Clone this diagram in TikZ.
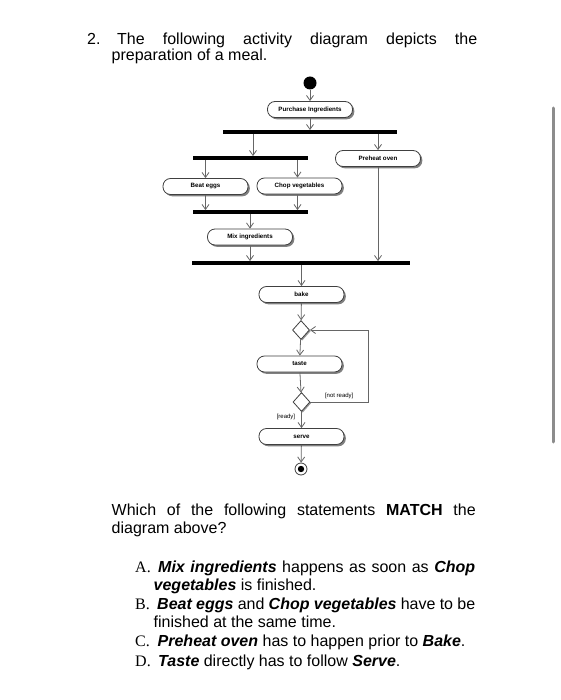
\documentclass[tikz,border=0pt]{standalone}
\usepackage{fontspec}
\setmainfont{Liberation Sans}
\newfontfamily\serifL{Liberation Serif}
\usetikzlibrary{arrows.meta,shapes.geometric,shadows,calc}
\newcommand{\bi}[1]{\textbf{\textit{#1}}}
\begin{document}
\begin{tikzpicture}[x=1pt,y=-1pt,
  act/.style={draw=black!75, line width=0.8pt, fill=white, rounded corners=7.5pt,
    minimum width=85pt, minimum height=16pt, inner sep=0pt,
    font=\fontsize{6.2}{7}\selectfont\bfseries,
    drop shadow={shadow xshift=1.8pt, shadow yshift=-1.8pt, fill=black!50, opacity=1}},
  bar/.style={fill=black, draw=none, minimum height=3.4pt, inner sep=0pt},
  arr/.style={draw=black!60, line width=0.8pt, -{Straight Barb[length=5pt,width=7pt,line width=0.8pt]}},
  dec/.style={shape=diamond, draw=black!75, line width=0.8pt, fill=white, minimum width=17pt, minimum height=19pt, inner sep=0pt,
    drop shadow={shadow xshift=1.2pt, shadow yshift=-1.2pt, fill=black!40, opacity=1}},
  guard/.style={font=\fontsize{6}{7}\selectfont, inner sep=0pt},
  q/.style={anchor=base west, inner sep=0pt, font=\fontsize{16}{18}\selectfont},
  lab/.style={anchor=base west, inner sep=0pt, font=\fontsize{16}{18}\selectfont\serifL}
]
\useasboundingbox (0,0) rectangle (561,700);
\fill[white] (0,0) rectangle (561,700);

% header text
\node[q] (num) at (87,44.5) {2.};
\node[q] (h1) at (117,44.5) {\makebox[360pt][s]{The following activity diagram depicts the}};
\node[q] (h2) at (111.5,61) {preparation of a meal.};

% diagram
\node[circle, fill=black, minimum size=13pt, inner sep=0pt] (start) at (310,83) {};
\node[act] (purchase) at (310,109.5) {Purchase Ingredients};
\node[bar, minimum width=174pt] (f1) at (310,132) {};
\node[bar, minimum width=115pt] (f2) at (250,158) {};
\node[act] (preheat) at (378,158.5) {Preheat oven};
\node[act] (beat) at (205.5,186.5) {Beat eggs};
\node[act] (chop) at (299.5,186) {Chop vegetables};
\node[bar, minimum width=115pt] (f3) at (250,212) {};
\node[act] (mix) at (250,237) {Mix ingredients};
\node[bar, minimum width=218pt] (f4) at (301,263) {};
\node[act] (bake) at (301.5,294.5) {bake};
\node[dec] (d1) at (301,330) {};
\node[act] (taste) at (299.5,364) {taste};
\node[dec] (d2) at (301.5,402) {};
\node[act] (serve) at (301.5,436.5) {serve};
\node[circle, draw=black!75, line width=0.8pt, fill=white, minimum size=12pt, inner sep=0pt] (end) at (301,469) {};
\fill[black] (end.center) circle (3.2pt);
\coordinate (loopx) at (368,0);

\draw[arr] (start) -- (purchase);
\draw[arr] (purchase) -- (purchase |- f1.north);
\draw[arr] ($(f1.south -| f2)+(3,0)$) -- ($(f2.north)+(3,0)$);
\draw[arr] (preheat |- f1.south) -- (preheat.north);
\draw[arr] (beat |- f2.south) -- (beat.north);
\draw[arr] ($(chop |- f2.south)+(-2,0)$) -- ($(chop.north)+(-2,0)$);
\draw[arr] (beat.south) -- (beat |- f3.north);
\draw[arr] ($(chop.south)+(-2,0)$) -- ($(chop |- f3.north)+(-2,0)$);
\draw[arr] (f3.south -| mix) -- (mix.north);
\draw[arr] (mix) -- (mix |- f4.north);
\draw[arr] (preheat) -- (preheat |- f4.north);
\draw[arr] (bake |- f4.south) -- (bake.north);
\draw[arr] (bake) -- (d1);
\draw[arr] (d1) -- (taste);
\draw[arr] (taste) -- (d2);
\draw[arr] (d2) -- node[guard, pos=0.3, left=6pt] (ready) {[ready]} (serve);
\draw[arr] (serve) -- (end);
\draw[arr] (d2.east) -- node[guard, above=3pt] (notready) {[not ready]} (d2.east -| loopx) |- (d1.east);

% scrollbar
\draw[line width=3pt, line cap=round, draw=black!45] (553.5,108) coordinate (sb1) -- (553.5,442) coordinate (sb2);

% question
\node[q] (qa) at (111.5,515) {\makebox[364pt][s]{Which of the following statements \textbf{MATCH} the}};
\node[q] (qb) at (111.5,533) {diagram above?};

\node[lab] (la) at (135,572.5) {A.};
\node[q] (a1) at (158,572.5) {\makebox[317pt][s]{\bi{Mix ingredients} happens as soon as \bi{Chop}}};
\node[q] (a2) at (153.5,590) {\bi{vegetables} is finished.};
\node[lab] (lb) at (135,609) {B.};
\node[q] (b1) at (157,609) {\makebox[318pt][s]{\bi{Beat eggs} and \bi{Chop vegetables} have to be}};
\node[q] (b2) at (153.5,627) {finished at the same time.};
\node[lab] (lc) at (135,646.5) {C.};
\node[q] (c1) at (157.5,646.5) {\bi{Preheat oven} has to happen prior to \bi{Bake}.};
\node[lab] (ld) at (135,666) {D.};
\node[q] (d1t) at (158,666) {\bi{Taste} directly has to follow \bi{Serve}.};
\end{tikzpicture}
\end{document}
